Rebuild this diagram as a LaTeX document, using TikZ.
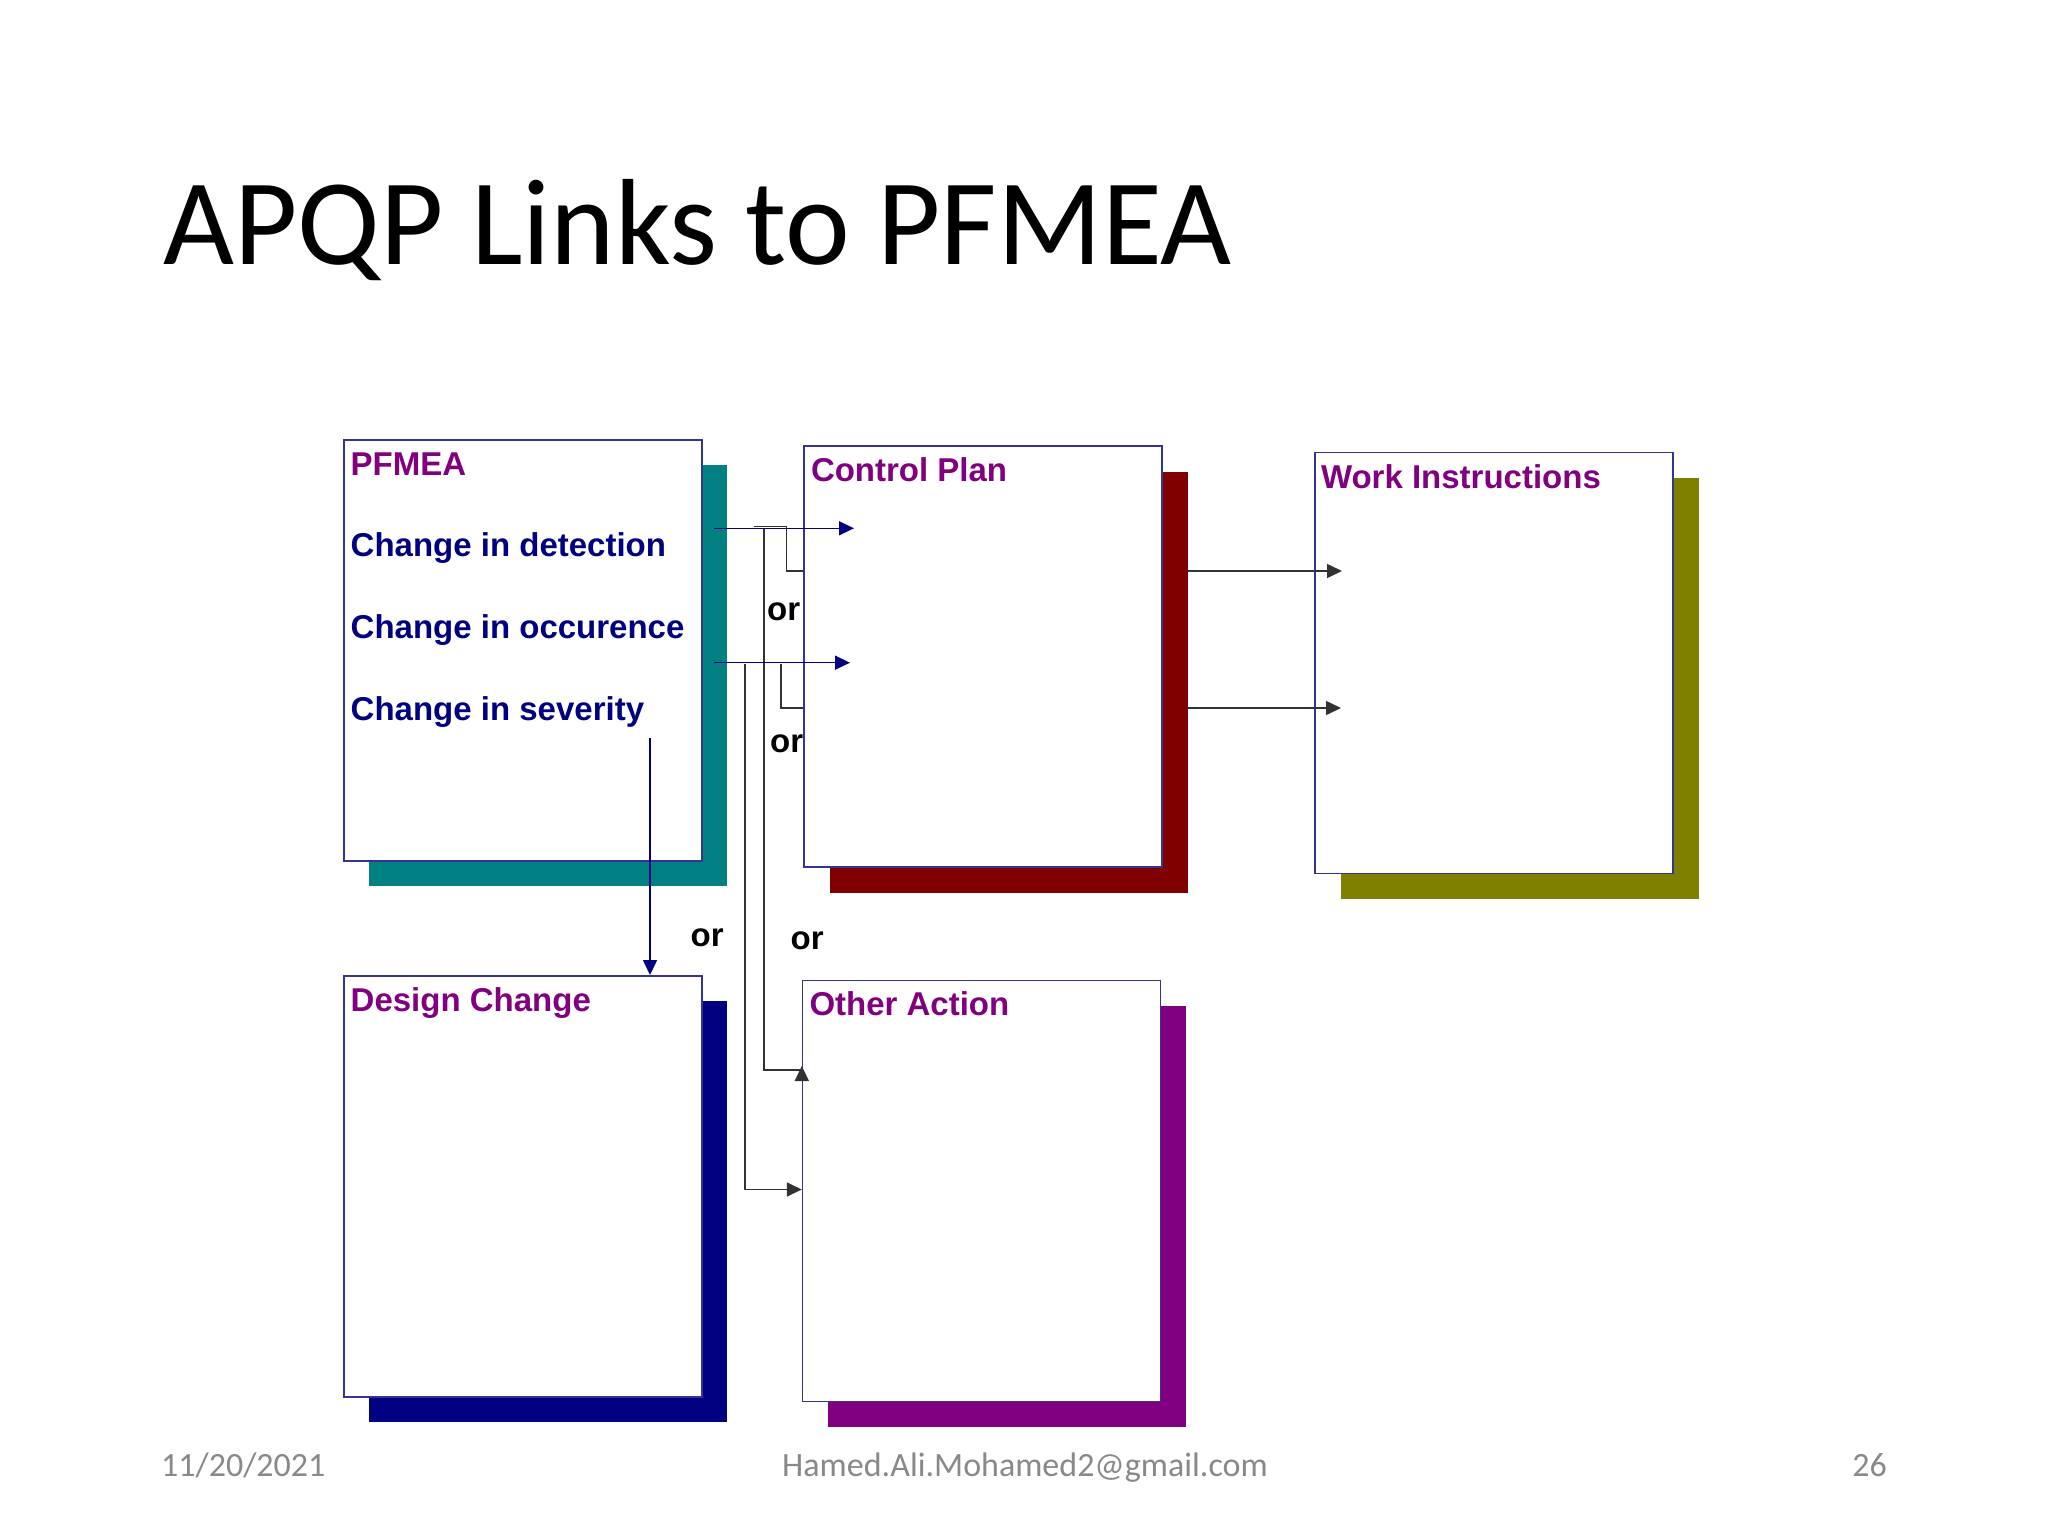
\documentclass[tikz,border=0pt]{standalone}
\usepackage{fontspec}
\setsansfont{Liberation Sans}
\newfontfamily\slidefont{Carlito}
\usepackage{tikz}
\usetikzlibrary{arrows.meta,shadows}
\definecolor{boxblue}{RGB}{51,51,153}
\definecolor{headpurple}{RGB}{128,0,128}
\definecolor{itemnavy}{RGB}{0,0,128}
\definecolor{linegray}{RGB}{50,50,50}
\definecolor{footgray}{RGB}{137,137,137}
\definecolor{shteal}{RGB}{0,128,128}
\definecolor{shmaroon}{RGB}{128,0,0}
\definecolor{sholive}{RGB}{128,128,0}
\definecolor{shnavy}{RGB}{0,0,128}
\definecolor{shpurple}{RGB}{128,0,128}
\tikzset{
    %Define standard arrow tip
    >={Triangle[length=15pt,width=14pt]},
    %Define style for boxes
    sheet/.style={
           rectangle,
           draw=boxblue, line width=1.5pt,
           fill=white,
           anchor=north west,
           inner sep=0pt,
           minimum width=358pt,
           minimum height=421pt},
    % Define solid shadow behind a box
    backing/.style={drop shadow={shadow xshift=25.5pt,shadow yshift=-25.5pt,fill=#1,opacity=1}},
    % Define text styles
    heading/.style={anchor=base west,inner sep=0pt,text=headpurple,font=\sffamily\bfseries\fontsize{33}{40}\selectfont},
    item/.style={heading,text=itemnavy},
    orlabel/.style={heading,text=black},
    foot/.style={anchor=base west,inner sep=0pt,text=footgray,font=\slidefont\fontsize{34}{40}\selectfont},
    % Define arrow styles
    bluepil/.style={->,draw=itemnavy,line width=1.5pt},
    blackpil/.style={->,draw=linegray,line width=1.5pt},
    blackline/.style={draw=linegray,line width=1.5pt}
}

\begin{document}
\begin{tikzpicture}[x=1pt,y=-1pt]
  \useasboundingbox (0,0) rectangle (2048,1536);
  \fill[white] (0,0) rectangle (2048,1536);

  \node[anchor=base west,inner sep=0pt,font=\slidefont\fontsize{122.6}{140}\selectfont] (title) at (163,264) {APQP Links to PFMEA};

  % labels that lie partly under the boxes
  \node[orlabel] (or1) at (767,620) {or};
  \node[orlabel] (or2) at (770,752) {or};
  \node[orlabel] (or3) at (690.5,946.7) {or};
  \node[orlabel] (or4) at (790.5,949.3) {or};

  \node[sheet,backing=shteal ] (pfmea) at (343,439) {};
  \node[sheet,backing=shmaroon] (cp) at (803.3,445.3) {};
  \node[sheet,backing=sholive] (wi) at (1314.3,451.7) {};
  \node[sheet,backing=shnavy ] (dc) at (343,975) {};
  \node[sheet,backing=shpurple] (oa) at (801.8,979.5) {};

  \node[heading] (pfmeaT) at ([shift={(7.5,36)}]pfmea.north west) {PFMEA};
  \node[heading] (cpT) at ([shift={(7.5,36)}]cp.north west) {Control Plan};
  \node[heading] (wiT) at ([shift={(6.5,36.5)}]wi.north west) {Work Instructions};
  \node[heading] (dcT) at ([shift={(7.5,36.5)}]dc.north west) {Design Change};
  \node[heading] (oaT) at ([shift={(7.5,35.5)}]oa.north west) {Other Action};
  \foreach \w/\n [count=\i] in {detection/det,occurence/occ,severity/sev}
    \node[item] (\n) at ([shift={(7.5,{36+81.7*\i})}]pfmea.north west) {Change in \w};

  \coordinate (p1) at (713.5,528.3);
  \coordinate (p2) at (713.5,662.7);
  \coordinate (c1) at (854,528.3);
  \coordinate (c2) at (850,662.7);
  \coordinate (s0) at (650,738);
  \coordinate (k1) at (754,526.3);
  \coordinate (k2) at (764,529);
  \coordinate (k3) at (781,664);
  \coordinate (k4) at (745,664);
  \coordinate (w1) at (1187,571);
  \coordinate (w2) at (1187,708);

  % black links
  \draw[blackline] (k1) -- (786.7,526.3) -- (786.7,571) -- (786.7,571 -| cp.west);
  \draw[blackline] (k3) -- (781,708) -- (781,708 -| cp.west);
  \draw[blackpil] (k2) -- (764,1070) -- (764,1070 -| oa.west) -- ++(0,-4);
  \draw[blackpil] (k4) -- (745,1189.5) -- (745,1189.5 -| oa.west);
  \draw[blackpil] (w1) -- ([xshift=27.7pt]w1 -| wi.west);
  \draw[blackpil] (w2) -- ([xshift=26.7pt]w2 -| wi.west);

  % blue links
  \draw[bluepil] (p1) -- (c1);
  \draw[bluepil] (p2) -- (c2);
  \draw[bluepil] (s0) -- (s0 |- dc.north);

  \node[foot] (date) at (161,1476) {11/20/2021};
  \node[foot] (mail) at (782,1476) {Hamed.Ali.Mohamed2@gmail.com};
  \node[foot,anchor=base east] (page) at (1887,1476) {26};
\end{tikzpicture}
\end{document}
